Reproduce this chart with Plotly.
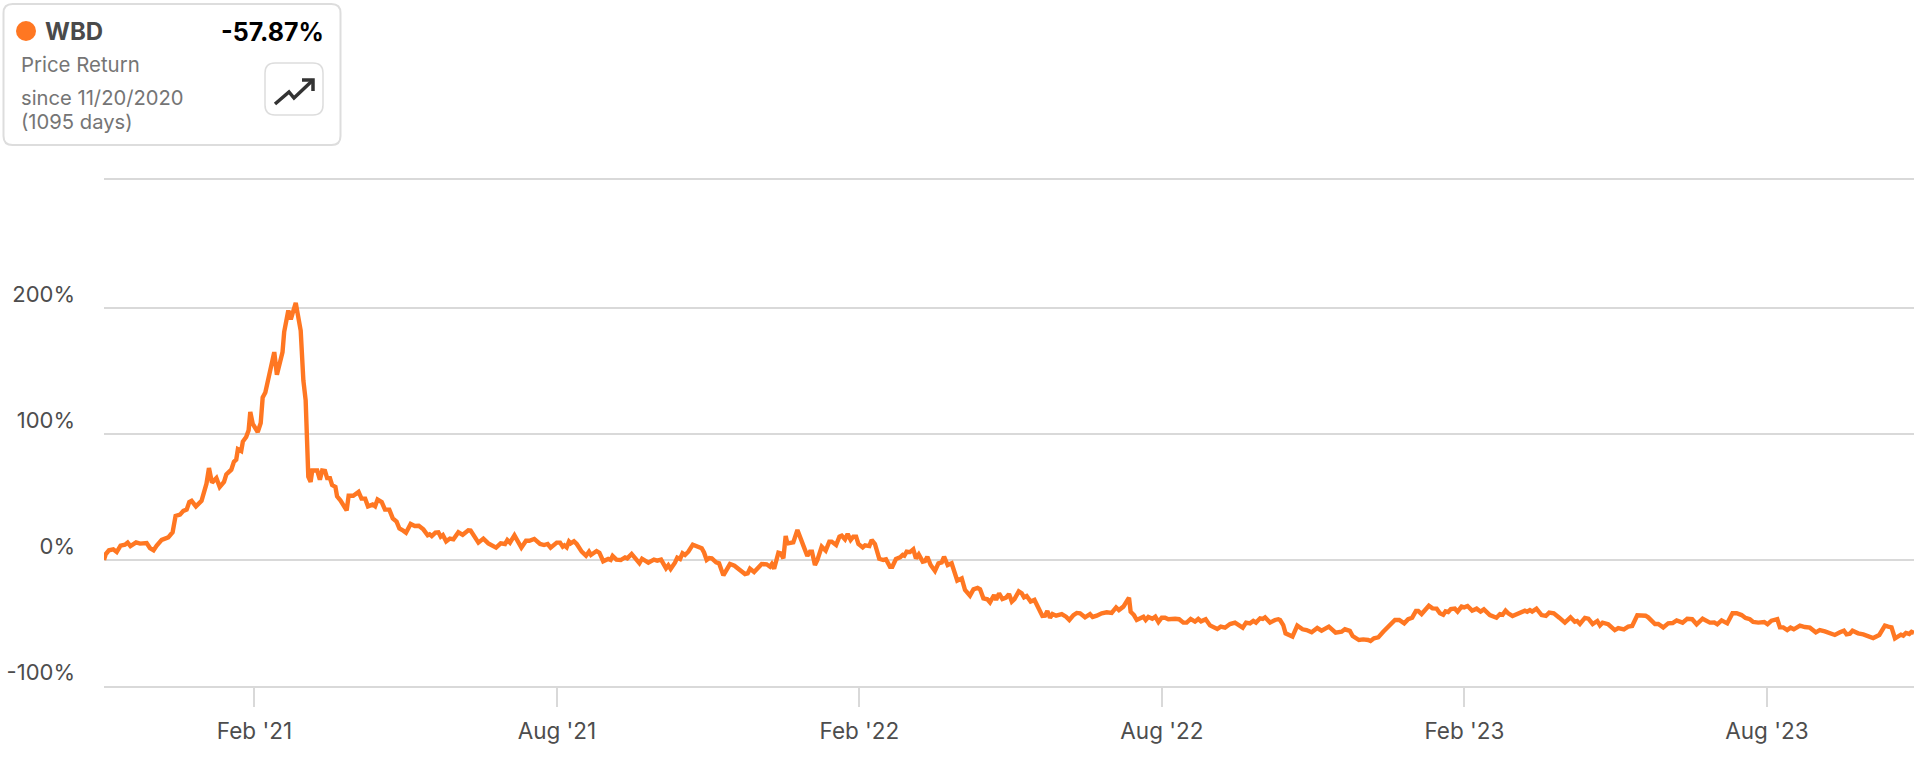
import pandas as pd
import plotly.graph_objects as go

SERIES_NAME = "WBD"
START_DATE = "2020-11-20"
TOTAL_DAYS = 1095

days_a = [0,1,3,5.6,7.7,10,12.7,14.3,16,19.4,21.8,25.8,27.8,30,31.9,34.9,38.9,41.5,43.3,46,48,50,51.6,53,55.6,59,62,63.5,65.3,68,70,72.6,74,77,78.6,80,81,83,84,86,87.5,88.5,90,93,94.8,96,97.6,99.4,101.4,103,104.6,106.5,108,109,111.5,113,116,119,120.6,122,123.6,125,126,129,130.6,132,133.7,135,136.7,138,140,141,143,146.8,148,150.8,154,155.8,158,159.7,162.5,164,165.5]
pct_a = [0,4.5,7.7,8.5,6.3,11.4,12.2,13.8,11,14,13,13.5,9.5,7.7,11.4,16,18,22,35,36,39,40,46,47,42.6,47,60.6,73,61.4,65,58,62,68,71.7,78,79.6,88,86.5,94,97.6,103,117.5,108,101.6,108.7,129,133,142.6,153,165,147,158,165,181,198,191,204,182,142.6,126.7,66,62,71,71,63.8,71,70.6,65,65,59.5,58,50.5,47.4,39.4,51,51,54,48.7,48.7,42.6,44,42.6,48]

days_b = [168,170,172.6,174.7,177,178.7,181,182.7,185.5,188,190.4,193.2,195.8,197,198.3,200.5,202.3,203.7,205,207,209.3,211.4,214.4,217,220.4,221.8,226.5,229.5,232.5,237.2,240,242.6,244,245.6,248.3,250,252.5,255.3,257.3,260.3,263.8,266.2,268.4,270.2,273.9,275.9,277.5,278.5,279.9,281.3,282.3,284.3,286,289,291.6,293.4,294.6,298,299.7,302,305,306.5,307.7,310,312.6,315.2,316.6,319.2,321.2,323.9,325.5,329.3,332.7,334.7,337,340,341.4,342.8,345.4,346.8]
pct_b = [46,40,40,33,30.4,25,23.3,21.7,28.6,27,27.2,24.3,19.6,20.4,19,21.7,22,18.5,19.8,14.8,17,16.4,22,20,23.5,23.3,13.8,17,13.2,9.8,13.2,12.7,15.9,13.8,19.6,15.3,9.8,15.3,15.3,16.7,12.7,11.9,12.7,9.8,13.8,13.8,10.6,11.6,10,14.6,13.2,14.8,12.7,6.6,3.4,6.6,4,7.1,5.8,-1,0.8,0,3.2,0.3,0,2.1,1.3,4.8,2.1,-2.6,1,-2.1,0.3,-0.5,0.3,-6.6,-4.2,-7.1,-2.1,1.9]

days_c = [348.5,350,351.5,353.5,356.2,358.6,361.6,363,364.6,366.2,367.7,370.3,372.1,374.7,378.7,381.4,384.4,387.8,389.4,390.8,393.3,395.3,397.9,400.9,402.9,404,405.4,408,409.4,411,412.4,413.4,417,419.5,421.5,423.5,425.5,427.1,428.3,430.1,431.6,434.2,436.6,438.8,440.2,442.9,444.9,446.3,448.3,449.9,451.7,453.3,455,456.4,459,460.4,463,464.4,466.4,469,471.5,473.1,475.5,476.9,479.1,481.6,483.2,484.2,485.6,487.6,489.6,491.2,492.9,495.3,496.7,498.1,500.1,502.7,504.8,506.8,508.2,510.4,512.8,514.2,516.2,518.9,520.9,523.9,526,528.5]
pct_c = [0.8,5.3,4,6.6,12.2,11,9.3,6,0,1.6,1.3,-1.9,-2.6,-12.2,-3.2,-4.5,-7.4,-11.1,-10.6,-6.9,-9.5,-6.9,-3.2,-3.4,-5.3,-3.2,-6.9,5.8,5.3,1.3,19,13.2,14,23.8,15.9,10,3.2,6.6,6.6,-4,0,10.6,7.4,14.6,14.6,11.9,18.5,19.3,16.4,20.6,15.9,18.5,18.5,12.7,10,11.6,11,15.9,12.7,1,0,0.5,-5.3,-5.3,0.8,2.1,4,3.4,6.6,6.3,8.5,1.3,4.5,-1.3,-0.8,2.6,-4,-8.7,-2.6,-1.9,2.6,-4,-2.6,-9.3,-16.4,-14.6,-23.8,-28.3,-23.3,-22.2]

days_d = [530,532,534.4,536,538.5,539.7,541.5,543.5,545.7,547.5,549.2,550.8,553.4,555.2,556.6,558.2,560.6,562.9,565.3,567.7,569.3,570.7,572.3,573.8,576,579.4,582,584,586.5,588.5,590.5,593.5,596.5,598.1,600.6,603.6,606.6,609.6,612.3,614,616.7,620.1,621.1,623.1,624.8,626.8,628.8,630.2,631.8,634.2,636,637.9,639.9,641.9,643.9,648,650.4,653,655,657.4,660,662,663.7,666.5,669.1,673.5,675.6,678.2,681.2,684.2,686.3,688.9,690.9,693.3,695.3,696.9,699.4,701,702.4,705.4,708.4,710.4]
pct_d = [-23.3,-30.4,-31.2,-33.6,-27.8,-31.7,-26.5,-31,-29.9,-27,-33,-31,-24.9,-26.5,-29.6,-28.6,-33,-31.7,-38.4,-44.4,-44.2,-40.5,-45.8,-42.9,-44.2,-42.9,-45,-47.6,-43.7,-42,-42.3,-45.5,-43,-45.2,-44.2,-42.3,-41.5,-42,-37.6,-39.7,-37,-29.9,-41,-43.7,-47.6,-45.8,-45,-47.6,-45.2,-46.6,-45,-49.2,-45.8,-45.8,-47,-46.6,-47,-49.7,-49.7,-46.8,-48.9,-46.8,-48.7,-47,-51.9,-54.8,-52.9,-53.7,-50.8,-49.7,-51.9,-53.7,-49.7,-50.3,-48.4,-49.7,-46.3,-46.8,-45.5,-49.7,-47.6,-47]

days_e = [711.5,713.4,714.8,719,721.9,725.1,727.5,730.6,734,736.6,741,745.1,748.7,750.7,753.7,755.4,759.2,761.8,764.8,766.2,768.3,770.9,773.9,776.9,778.5,781,783.6,786.6,789,791.4,793.7,795.1,797.1,801.5,803.7,806.2,808.2,810.2,811.6,813.2,814.8,817.2,818.9,821.3,822.9,824.9,827.7,830.4,832.8,834.8,838.4,842.4,844.5,846.1,847.9,849.5,852.1,855.6,859.6,861,862.6,864,866.6,869.7,872.3,874.3,877.1,880.4,883.8,887.2,889.8,891.2]
pct_e = [-47.6,-51.6,-58.2,-60.8,-52.1,-55,-55.6,-57.4,-54,-56.1,-52.9,-57.7,-56.9,-55,-56.3,-60.3,-63.5,-63,-63.5,-64.3,-62.2,-61.4,-56.9,-52.9,-49.7,-47.6,-47.6,-50.3,-47,-45.8,-40.5,-40.5,-42.9,-36.3,-38.4,-38.6,-42.3,-43.4,-40.7,-41.3,-38.9,-38.6,-41,-37,-37.6,-36.5,-40.2,-38.6,-41,-39.2,-43.7,-45.8,-42.9,-43.4,-40.2,-42.3,-44.4,-42.3,-40.2,-41,-39.7,-41,-38.6,-43.7,-44.4,-41.8,-42.3,-45.8,-49.7,-45.5,-49,-48.4]

days_f = [892.9,895.9,898,900.6,903.4,905,906.6,910,914,916.1,919.5,922.1,924.5,927.6,930.2,932.6,934.2,938.3,940.3,943.3,946.3,949,951.4,955,957.8,960.8,963.5,967.1,971.5,974.2,976,978.6,982,985.2,987.7,990.7,993.1,995.7,997.7,1000.8,1004.4,1006.4,1008.8,1012.3,1013.9,1015.9,1018.3,1020.3,1022.3,1026,1029,1032,1035.6,1038,1041.1,1044.1,1047.1,1050.2,1052.6,1054.2,1056.2,1057.8,1061.2,1064.3,1067.3,1070.3,1074,1075.4,1077.4,1079.4,1081.4,1083.5,1086,1087.1,1088.5,1090.1,1092.1,1093.5,1095]
pct_f = [-50.8,-46,-46.6,-50.8,-48.4,-51.9,-49.7,-51,-55.6,-54,-55,-52.9,-52.4,-43.9,-43.7,-44.2,-45.5,-50.8,-50.8,-53.5,-50.3,-50,-47.9,-49.7,-46.6,-47,-51,-46.6,-49.7,-49.5,-51,-47.9,-50.3,-42.3,-42.3,-43.7,-46,-47,-49.2,-49.7,-49.2,-51,-48.2,-47,-53.5,-53.5,-55.6,-53.7,-55,-52.1,-53.2,-53.7,-57.4,-55.6,-56.6,-58.2,-59.5,-57.4,-56.1,-59,-58.5,-56.1,-58.2,-59,-60.8,-61.9,-59.5,-56.9,-52.1,-52.9,-53.5,-62.2,-60.3,-59.3,-60,-57.9,-58.7,-57,-57.87]

x_tick_dates = ["2021-02-19", "2021-08-21", "2022-02-20", "2022-08-22", "2023-02-21", "2023-08-23"]
x_tick_labels = ["Feb '21", "Aug '21", "Feb '22", "Aug '22", "Feb '23", "Aug '23"]
y_tick_values = [-100, 0, 100, 200]
y_tick_labels = ["-100%", "0%", "100%", "200%"]

ORANGE = "#FF7722"
GRID = "#D9D9D9"
FONT = "Inter, 'Liberation Sans', sans-serif"
W, H = 1924, 760
L, R, T, B = 104, 1914, 180, 686

days = days_a + days_b + days_c + days_d + days_e + days_f
pct = pct_a + pct_b + pct_c + pct_d + pct_e + pct_f
start = pd.Timestamp(START_DATE)
dates = [(start + pd.Timedelta(days=d)).isoformat() for d in days]


def px(x):
    return (x - L) / (R - L)


def py(y):
    return (B - y) / (B - T)


def round_rect(x0, y0, x1, y1, r):
    return (
        f"M {px(x0 + r)} {py(y0)} L {px(x1 - r)} {py(y0)} "
        f"Q {px(x1)} {py(y0)} {px(x1)} {py(y0 + r)} L {px(x1)} {py(y1 - r)} "
        f"Q {px(x1)} {py(y1)} {px(x1 - r)} {py(y1)} L {px(x0 + r)} {py(y1)} "
        f"Q {px(x0)} {py(y1)} {px(x0)} {py(y1 - r)} L {px(x0)} {py(y0 + r)} "
        f"Q {px(x0)} {py(y0)} {px(x0 + r)} {py(y0)} Z"
    )


def polyline(pts):
    return "M " + " L ".join(f"{px(a)} {py(b)}" for a, b in pts)


fig = go.Figure(
    go.Scatter(
        x=dates, y=pct, mode="lines", name=SERIES_NAME,
        line=dict(color=ORANGE, width=4.4, shape="linear"),
        hoverinfo="skip",
    )
)

shapes = [
    dict(type="path", xref="paper", yref="paper", path=round_rect(3.5, 4, 340.5, 145, 9),
         line=dict(color="#DDDDDD", width=2), fillcolor="white"),
    dict(type="path", xref="paper", yref="paper", path=round_rect(265, 63, 323, 115, 10),
         line=dict(color="#DDDDDD", width=1.5), fillcolor="white"),
    dict(type="circle", xref="paper", yref="paper", x0=px(16), x1=px(36), y0=py(41), y1=py(21),
         line=dict(width=0), fillcolor=ORANGE),
    dict(type="path", xref="paper", yref="paper",
         path=polyline([(275, 104), (289, 92), (294, 98), (313, 80)]),
         line=dict(color="#333333", width=3.5)),
    dict(type="path", xref="paper", yref="paper",
         path=polyline([(302, 80), (313, 80), (313, 91)]),
         line=dict(color="#333333", width=3.5)),
]


def label(text, x, y, size, color, anchor="left", bold=False):
    return dict(
        text=f"<b>{text}</b>" if bold else text,
        xref="paper", yref="paper", x=px(x), y=py(y), xanchor=anchor, yanchor="middle",
        showarrow=False, font=dict(family=FONT, size=size, color=color),
        borderpad=0, borderwidth=0,
    )


annotations = [
    label("WBD", 45, 31.5, 24, "#4A4A4A", bold=True),
    label("-57.87%", 324, 32, 25, "#000000", anchor="right", bold=True),
    label("Price Return", 20.5, 65, 20.4, "#757575"),
    label("since 11/20/2020", 20.5, 97, 20.2, "#757575"),
    label("(1095 days)", 20.5, 121, 20.2, "#757575"),
]

fig.update_layout(
    width=W, height=H,
    margin=dict(l=L, r=W - R, t=T, b=H - B, pad=0, autoexpand=False),
    paper_bgcolor="white", plot_bgcolor="white",
    showlegend=False,
    shapes=shapes, annotations=annotations,
    font=dict(family=FONT, size=18, color="#4D4D4D"),
    xaxis=dict(
        type="date",
        range=[start.isoformat(), (start + pd.Timedelta(days=TOTAL_DAYS)).isoformat()],
        tickmode="array", tickvals=x_tick_dates, ticktext=x_tick_labels,
        ticks="outside", ticklen=19, tickwidth=1.5, tickcolor=GRID,
        showgrid=False, showline=True, linecolor=GRID, linewidth=1.5, mirror=True,
        zeroline=False, ticklabelstandoff=5,
        tickfont=dict(family=FONT, size=22.5, color="#4D4D4D"),
        fixedrange=True,
    ),
    yaxis=dict(
        range=[-100, 301.6],
        tickmode="array", tickvals=y_tick_values, ticktext=y_tick_labels,
        ticks="", showgrid=True, gridcolor=GRID, gridwidth=1.5,
        zeroline=False, showline=False,
        ticklabelstandoff=28, ticklabelshift=-14,
        tickfont=dict(family=FONT, size=22, color="#4D4D4D"),
        fixedrange=True,
    ),
)

fig.write_html(
    "out.html",
    config={"displayModeBar": False},
    post_script="document.body.style.margin='0';document.documentElement.style.overflow='hidden';",
)
